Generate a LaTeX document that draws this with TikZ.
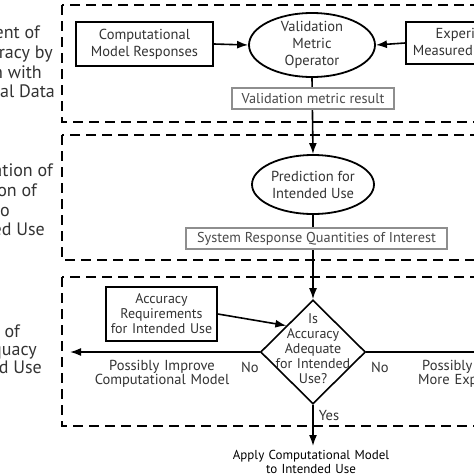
\documentclass[tikz,border=0pt]{standalone}
\usepackage{fontspec}
\setmainfont{PT Sans}
\usetikzlibrary{arrows.meta,shapes.geometric}
\definecolor{txtc}{HTML}{333333}
\definecolor{gtxt}{HTML}{4A4A4A}
\definecolor{gline}{HTML}{8E8E8E}
\newcommand{\fsz}[2]{\fontsize{#1}{#2}\selectfont\lineskiplimit=-8pt\relax}
\begin{document}
\begin{tikzpicture}[x=1pt,y=-1pt,
  dbox/.style={draw, line width=2.6pt, dash pattern=on 10pt off 6pt},
  bbox/.style={draw, line width=1.8pt, fill=white, inner sep=0pt, align=center, text=txtc, font=\fsz{14.5}{17}},
  gbox/.style={draw=gline, line width=1.3pt, fill=white, inner sep=0pt, align=center, text=gtxt, font=\fsz{14.3}{16}},
  ell/.style={ellipse, draw, line width=1.8pt, fill=white, inner sep=0pt},
  txt/.style={align=center, text=txtc, inner sep=0pt, font=\fsz{14.5}{17}},
  lbr/.style={anchor=base east, text=txtc, inner sep=0pt, font=\fsz{18}{20}},
  arr/.style={line width=1.6pt, -{Latex[length=11pt,width=8pt]}},
  ln/.style={line width=1.6pt},
]
\useasboundingbox (0,0) rectangle (474,474);
\clip (0,0) rectangle (474,474);
\fill[white] (0,0) rectangle (474,474);

% dashed regions
\draw[dbox] (62,5) rectangle (490,122);
\draw[dbox] (62,135) rectangle (490,260);
\draw[dbox] (62,277) rectangle (490,426);

% left labels (cut by the image edge)
\node[lbr] (lab1a) at (40,38) {Assessment of};
\node[lbr] (lab1b) at (53,58) {Model Accuracy by};
\node[lbr] (lab1c) at (42,78) {Comparison with};
\node[lbr] (lab1d) at (55,97) {Experimental Data};
\node[lbr] (lab2a) at (53,176) {Extrapolation of};
\node[lbr] (lab2b) at (37,196) {Prediction of};
\node[lbr] (lab2c) at (10,216) {to};
\node[lbr] (lab2d) at (45,235) {Intended Use};
\node[lbr] (lab3a) at (20,337) {Decision of};
\node[lbr] (lab3b) at (37,355) {Model Adequacy};
\node[lbr] (lab3c) at (42,373) {for Intended Use};

% top region
\node[bbox, minimum width=137, minimum height=44] (cmr) at (144.5,44) {Computational\\Model Responses};
\node[bbox, minimum width=142, minimum height=42] (emr) at (477,43) {Experimental\\Measured Responses};
\node[ell, minimum width=126, minimum height=64] (vmo) at (312,45) {};
\node[txt] (vmot) at (vmo) {Validation\\Metric\\Operator};
\draw[arr] (cmr.east) -- (vmo.west);
\draw[arr] (emr.west) -- (vmo.east);

% middle region
\node[ell, minimum width=122, minimum height=59] (pred) at (313,184.5) {};
\node[txt] (predt) at (pred) {Prediction for\\Intended Use};
\draw[arr] (vmo.south) -- (pred.north);
\node[gbox, minimum width=162, minimum height=21] (vmr) at (313,98.5) {Validation metric result};

% bottom region
\node[diamond, draw, line width=1.6pt, fill=white, minimum width=105, minimum height=104, inner sep=0pt] (dec) at (313,352) {};
\node[txt, font=\fsz{14}{15}, text width=100] (dect) at (313,348.5) {Is\\Accuracy\\Adequate\\for Intended\\Use?};
\draw[arr] (pred.south) -- (dec.north);
\node[gbox, minimum width=261, minimum height=21] (srq) at (316.5,238.5) {System Response Quantities of Interest};

\node[bbox, font=\fsz{14}{15}, text width=108, minimum width=111, minimum height=54] (acc) at (161.5,314) {Accuracy\\Requirements\\for Intended Use};
\draw[arr] (acc.east) -- (dec.north west);

\coordinate (leftend) at (70,352);
\coordinate (rightend) at (495,352);
\draw[arr] (dec.west) -- (leftend);
\draw[ln] (dec.east) -- (rightend);

\node[txt] (nol) at (250,367) {No};
\node[txt] (nor) at (380,367) {No};
\node[txt, font=\fsz{14.5}{14.5}, text width=150] (imp) at (162,374) {Possibly Improve\\Computational Model};
\node[txt, font=\fsz{14.5}{14.5}, text width=150] (exp) at (475,374) {Possibly Conduct\\More Experiments};
\node[txt] (yes) at (329,416) {Yes};

\coordinate (applytop) at (313,446);
\draw[arr] (dec.south) -- (applytop);
\node[txt, font=\fsz{13}{14}, text width=180, text=black, anchor=north] (apply) at (311,450) {Apply Computational Model\\to Intended Use};
\end{tikzpicture}
\end{document}
